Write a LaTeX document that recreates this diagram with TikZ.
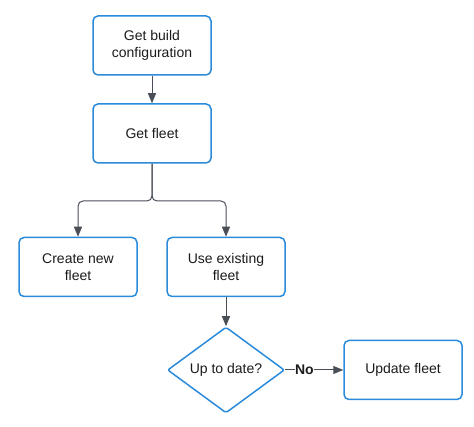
\documentclass[tikz,border=0pt]{standalone}
\usepackage{fontspec}
\setmainfont{Liberation Sans}
\usetikzlibrary{shapes.geometric,arrows.meta}
\definecolor{boxblue}{HTML}{2B8BDB}
\definecolor{conngray}{HTML}{4A4F57}
\definecolor{txt}{HTML}{1C1C1C}
\tikzset{
  box/.style={draw=boxblue, line width=1.5pt, rounded corners=5pt, fill=white,
    minimum width=118pt, minimum height=59pt, inner sep=0pt,
    align=center, text=txt, font=\fontsize{14}{16.5}\selectfont},
  dec/.style={draw=boxblue, line width=1.5pt, diamond, rounded corners=2pt, fill=white,
    minimum width=117pt, minimum height=86pt, inner sep=0pt,
    align=center, text=txt, font=\fontsize{14}{16.5}\selectfont},
  conn/.style={draw=conngray, line width=1pt, -{Triangle[width=8pt,length=10pt]}},
  lbl/.style={fill=white, inner sep=0.5pt, text=txt, font=\fontsize{14}{16.5}\selectfont\bfseries}
}
\begin{document}
\begin{tikzpicture}[x=1pt,y=1pt]
\useasboundingbox (0,0) rectangle (474,-427);
\node[box] (b1) at (152,-45.5) {Get build\\configuration};
\node[box] (b2) at (152,-133.5) {Get fleet};
\node[box] (b3) at (78,-267) {Create new\\fleet};
\node[box] (b4) at (226,-267) {Use existing\\fleet};
\node[dec] (d) at (226,-370) {Up to date?};
\node[box] (b5) at (403,-370) {Update fleet};
\coordinate (j) at (152,-201);
\draw[conn] (b1) -- (b2);
\draw[conn, rounded corners=5pt] (b2.south) -- (j) -| (b3.north);
\draw[conn, rounded corners=5pt] (b2.south) -- (j) -| (b4.north);
\draw[conn] (b4) -- (d);
\draw[conn] (d) -- node[lbl, pos=0.33] {No} (b5);
\end{tikzpicture}
\end{document}
